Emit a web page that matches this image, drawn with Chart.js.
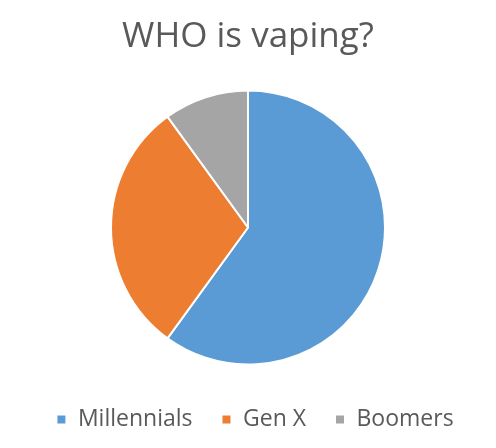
<!DOCTYPE html>
<html><head><meta charset="utf-8">
<script src="https://cdn.jsdelivr.net/npm/chart.js@4"></script>
<style>html,body{margin:0;padding:0;background:#fff}#w{width:496px;height:448px}</style>
</head><body><div id="w"><canvas id="c"></canvas></div>
<script>
const categories = ["Millennials", "Gen X", "Boomers"];
const values = [60, 30, 10];
const colors = ["#5B9BD5", "#ED7D31", "#A5A5A5"];
const shiftLegend = {
  id: 'shiftLegend',
  afterLayout(chart) { if (chart.legend) { chart.legend.left += 7; chart.legend.right += 7; } }
};
new Chart(document.getElementById('c'), {
  type: 'pie',
  data: { labels: categories, datasets: [{ data: values, backgroundColor: colors, borderColor: '#fff', borderWidth: 2, radius: 137 }] },
  options: {
    responsive: true, maintainAspectRatio: false, animation: false,
    layout: { padding: { top: 0, left: 0, right: 0, bottom: 7 } },
    plugins: {
      title: { display: true, text: 'WHO is vaping?', color: '#595959', font: { family: 'Open Sans', size: 35, weight: 'normal' }, padding: { top: 16, bottom: 18 } },
      legend: { position: 'bottom', labels: { color: '#595959', font: { family: 'Open Sans', size: 23 }, boxWidth: 10, boxHeight: 10, padding: 29 } },
      tooltip: { enabled: false }
    }
  },
  plugins: [shiftLegend]
});
</script></body></html>
